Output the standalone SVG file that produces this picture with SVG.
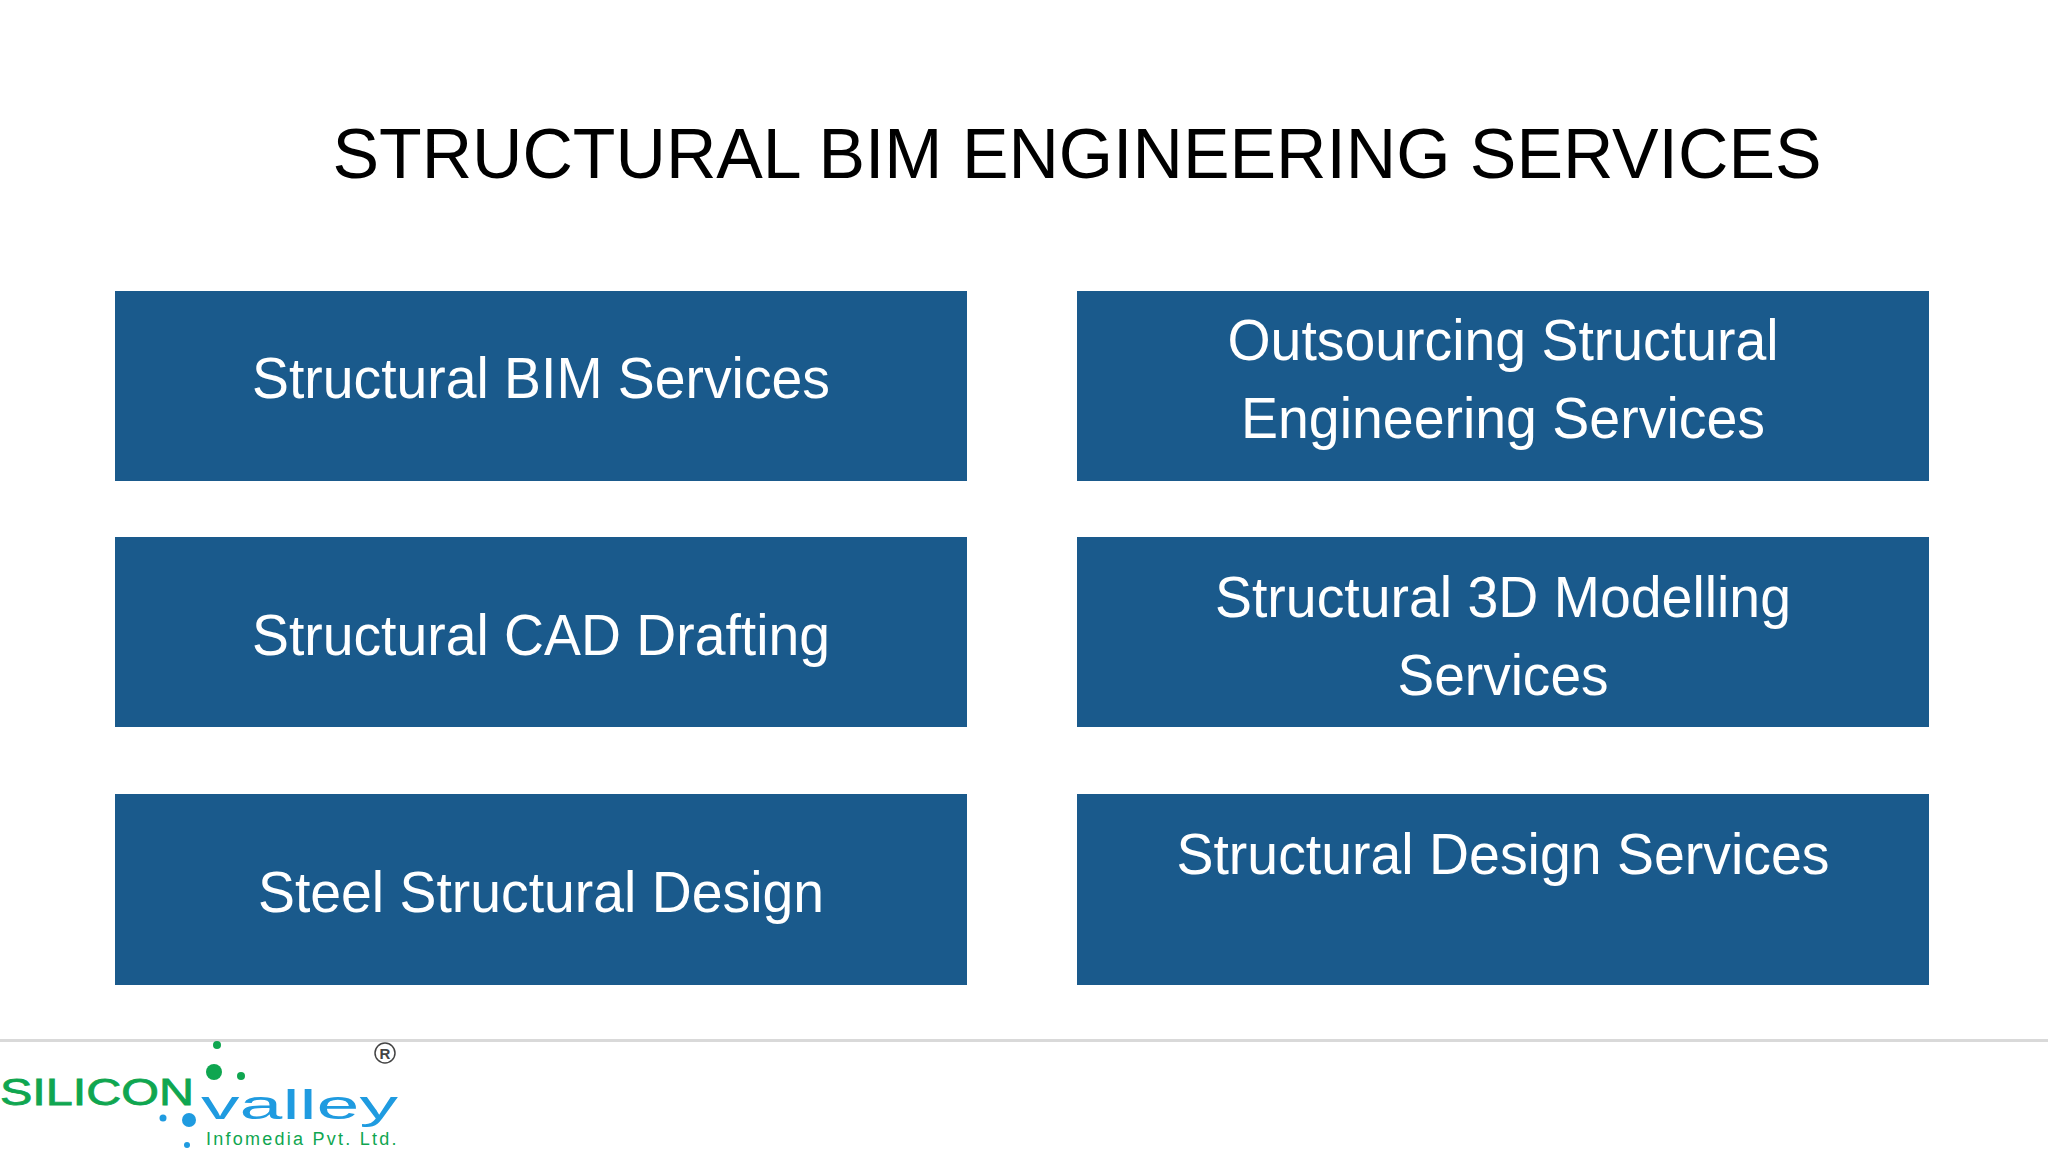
<svg xmlns="http://www.w3.org/2000/svg" width="2048" height="1152" viewBox="0 0 2048 1152">
<style>
text{font-family:"Liberation Sans",Arial,sans-serif}
.b{fill:#1a5a8c}
.t{fill:#fff;font-size:58px;text-anchor:middle}
.g{fill:#0fa650}
.c{fill:#1f9be0}
</style>
<rect width="2048" height="1152" fill="#fff"/>
<text id="title" x="1077" y="178" font-size="70" text-anchor="middle" fill="#000" textLength="1489" lengthAdjust="spacingAndGlyphs">STRUCTURAL BIM ENGINEERING SERVICES</text>
<g id="node1"><rect class="b" x="115" y="291" width="852" height="190"/><text class="t" x="541" y="398" textLength="578" lengthAdjust="spacingAndGlyphs">Structural BIM Services</text></g>
<g id="node2"><rect class="b" x="1077" y="291" width="852" height="190"/><text class="t" x="1503" y="360" textLength="551" lengthAdjust="spacingAndGlyphs">Outsourcing Structural</text><text class="t" x="1503" y="438" textLength="524" lengthAdjust="spacingAndGlyphs">Engineering Services</text></g>
<g id="node3"><rect class="b" x="115" y="537" width="852" height="190"/><text class="t" x="541" y="655" textLength="578" lengthAdjust="spacingAndGlyphs">Structural CAD Drafting</text></g>
<g id="node4"><rect class="b" x="1077" y="537" width="852" height="190"/><text class="t" x="1503" y="617" textLength="576" lengthAdjust="spacingAndGlyphs">Structural 3D Modelling</text><text class="t" x="1503" y="695" textLength="211" lengthAdjust="spacingAndGlyphs">Services</text></g>
<g id="node5"><rect class="b" x="115" y="794" width="852" height="191"/><text class="t" x="541" y="912" textLength="566" lengthAdjust="spacingAndGlyphs">Steel Structural Design</text></g>
<g id="node6"><rect class="b" x="1077" y="794" width="852" height="191"/><text class="t" x="1503" y="874" textLength="653" lengthAdjust="spacingAndGlyphs">Structural Design Services</text></g>
<g id="connectors"/>
<rect x="0" y="1039" width="2048" height="3" fill="#d9d9d9"/>
<g id="logo">
<circle class="g" cx="217" cy="1045" r="4"/>
<circle class="g" cx="214" cy="1072" r="8"/>
<circle class="g" cx="241" cy="1076" r="4"/>
<circle class="c" cx="163" cy="1118" r="3.500"/>
<circle class="c" cx="189" cy="1120" r="7"/>
<circle class="c" cx="187" cy="1145" r="3"/>
<text x="0" y="1105" class="g" stroke="#0fa650" stroke-width="0.800" font-size="36" textLength="194" lengthAdjust="spacingAndGlyphs">SILICON</text>
<text x="201" y="1119" class="c" font-size="41" textLength="197" lengthAdjust="spacingAndGlyphs">valley</text>
<text x="206" y="1145" class="g" font-size="18" letter-spacing="1.500" textLength="192">Infomedia Pvt. Ltd.</text>
<circle cx="385" cy="1053" r="10" fill="none" stroke="#444" stroke-width="1.500"/>
<text x="385" y="1059" font-size="15" font-weight="700" text-anchor="middle" fill="#444">R</text>
</g>
</svg>
